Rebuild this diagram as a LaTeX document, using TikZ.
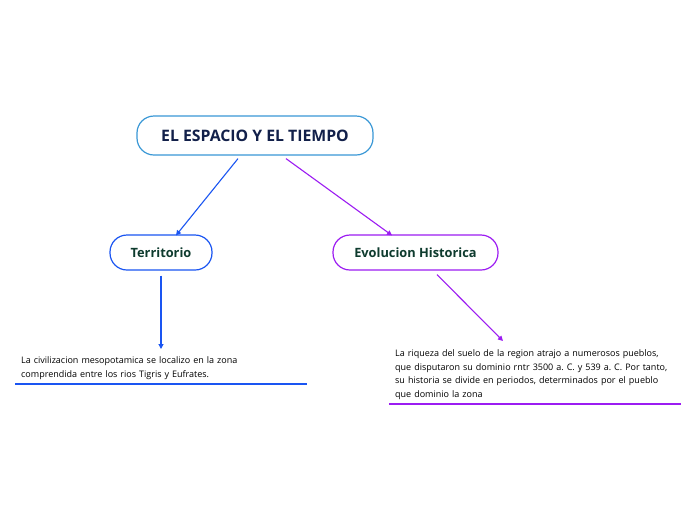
\documentclass[tikz,border=0pt]{standalone}
\usepackage{fontspec}
\setmainfont{Open Sans}
\usepackage{tikz}
\usetikzlibrary{arrows.meta}

\definecolor{rootline}{HTML}{3A98D6}
\definecolor{rootink}{HTML}{12204A}
\definecolor{leafink}{HTML}{0E3B2E}
\definecolor{bluline}{HTML}{1A55F2}
\definecolor{purline}{HTML}{9C1CF2}

\tikzset{
  topic/.style={draw, rounded corners=17pt, line width=1.2pt, fill=white, align=center},
  note/.style={align=left, text width=280pt, font=\fontsize{9}{13.5}\selectfont\frenchspacing, inner xsep=6pt, inner ysep=4.5pt},
  tip/.style={-{Triangle[length=5pt,width=5pt]}, line width=1.1pt}
}

\begin{document}
\begin{tikzpicture}[x=1pt,y=-1pt]
    \useasboundingbox[fill=white] (0,0) rectangle (696,520);
    % main topic
    \node[topic, draw=rootline, text=rootink, minimum width=236pt, minimum height=39pt,
          font=\fontsize{15.8}{18}\selectfont\bfseries] (root) at (255,135.5) {EL ESPACIO Y EL TIEMPO};
    % branches
    \node[topic, draw=bluline, text=leafink, minimum width=102pt, minimum height=35pt,
          font=\fontsize{12.8}{15}\selectfont\bfseries] (terr) at (161,252.5) {Territorio};
    \node[topic, draw=purline, text=leafink, minimum width=165pt, minimum height=35pt,
          font=\fontsize{12.8}{15}\selectfont\bfseries] (evol) at (415.5,252.5) {Evolucion Historica};
    % notes
    \node[note, anchor=south west] (terrnote) at (15,384)
      {La civilizacion mesopotamica se localizo en la zona\\
       comprendida entre los rios Tigris y Eufrates.};
    \node[note, anchor=south west] (evolnote) at (389,404)
      {La riqueza del suelo de la region atrajo a numerosos pueblos,\\
       que disputaron su dominio rntr 3500 a. C. y 539 a. C. Por tanto,\\
       su historia se divide en periodos, determinados por el pueblo\\
       que dominio la zona};
    \draw[bluline, line width=2pt] (terrnote.south west) -- (terrnote.south east);
    \draw[purline, line width=2pt] (evolnote.south west) -- (evolnote.south east);
    % connectors
    \draw[tip, bluline] ([xshift=-17pt,yshift=-3pt]root.south) -- ([xshift=15pt,yshift=-1pt]terr.north);
    \draw[tip, purline] ([xshift=31pt,yshift=-3pt]root.south) -- ([xshift=-23.5pt,yshift=-1pt]evol.north);
    \coordinate (terrtip) at (161,349);
    \draw[tip, bluline] ([yshift=-5pt]terr.south) -- (terrtip);
    \coordinate (evoltip) at (503,341);
    \draw[tip, purline] ([xshift=21.5pt,yshift=-4pt]evol.south) -- (evoltip);
\end{tikzpicture}
\end{document}
